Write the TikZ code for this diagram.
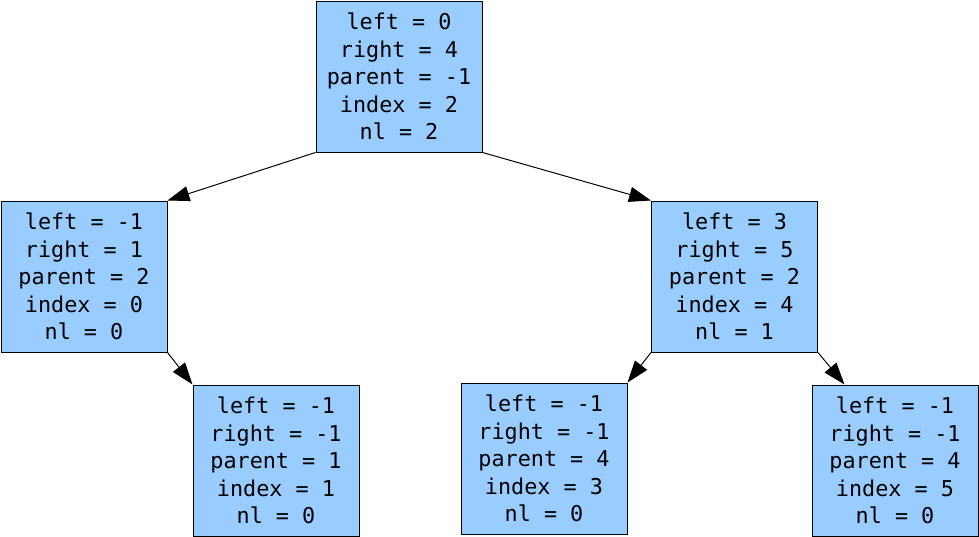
\documentclass[tikz,border=0pt]{standalone}
\usepackage{fontspec}
\setmonofont{DejaVu Sans Mono}
\usepackage{xcolor}
\usetikzlibrary{arrows, arrows.meta}
\usetikzlibrary{calc}
\definecolor{cellblue}{HTML}{99CCFF}

\begin{document}
\begin{tikzpicture}[
    cell/.style={rectangle, draw, line width=0.7pt, fill=cellblue, inner sep=0pt,
      minimum width=4.15cm, minimum height=3.775cm, align=center,
      font=\ttfamily\fontsize{15.5pt}{19.6pt}\selectfont},
    edge/.style={line width=0.7pt, -{Triangle[length=0.55cm, width=0.38cm]}}
  ]
      \useasboundingbox (0,0) rectangle (24.475,-13.425);
      \node[cell] (root) at (9.975,-1.9125) {left = 0\\right = 4\\parent = -1\\index = 2\\nl = 2};
      \node[cell] (n0) at (2.1,-6.9125) {left = -1\\right = 1\\parent = 2\\index = 0\\nl = 0};
      \node[cell] (n4) at (18.3625,-6.9125) {left = 3\\right = 5\\parent = 2\\index = 4\\nl = 1};
      \node[cell] (n1) at (6.9,-11.5125) {left = -1\\right = -1\\parent = 1\\index = 1\\nl = 0};
      \node[cell] (n3) at (13.6,-11.4625) {left = -1\\right = -1\\parent = 4\\index = 3\\nl = 0};
      \node[cell] (n5) at (22.375,-11.5125) {left = -1\\right = -1\\parent = 4\\index = 5\\nl = 0};

      \draw[edge] (root.south west) -- (n0.north east);
      \draw[edge] (root.south east) -- (n4.north west);
      \draw[edge] (n0.south east) -- (n1.north west);
      \draw[edge] (n4.south west) -- (n3.north east);
      \draw[edge] (n4.south east) -- ($(n5.north west)+(0.825,0)$);
    \end{tikzpicture}
\end{document}
